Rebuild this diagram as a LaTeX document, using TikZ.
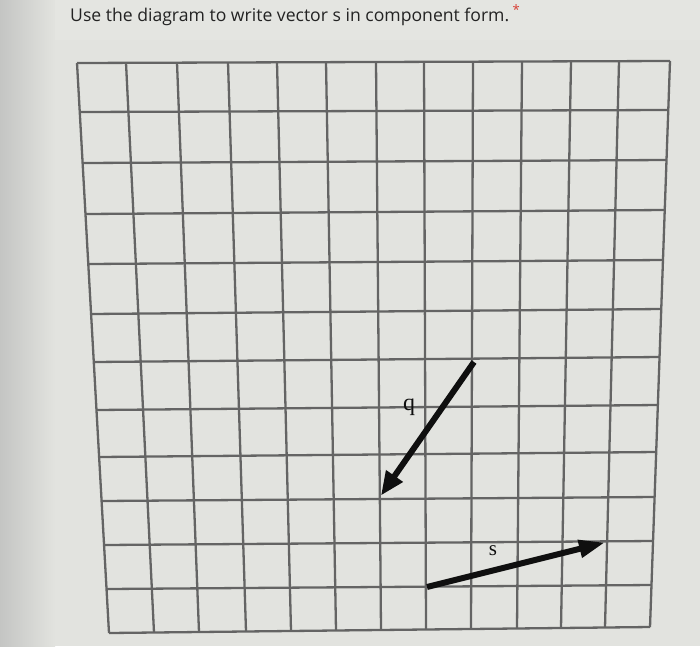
\documentclass[tikz,border=0pt]{standalone}
\usepackage{fontspec}
\setmainfont{Liberation Serif}
\newfontfamily\titlefont{Open Sans}
\usetikzlibrary{arrows.meta}
\definecolor{pagebg}{RGB}{226,227,223}
\definecolor{stripbg}{RGB}{196,197,195}
\definecolor{gridcol}{RGB}{100,100,100}
\definecolor{titlecol}{RGB}{35,35,35}
\definecolor{starred}{RGB}{215,60,50}
\definecolor{vec}{RGB}{15,15,15}
\tikzset{
  gridline/.style={draw=gridcol, line width=2.3pt},
  vecarrow/.style={draw=vec, line width=6pt, -{Triangle[length=24pt,width=19pt]}, shorten >=-2pt},
  veclabel/.style={font=\fontsize{24}{24}\selectfont, text=vec, inner sep=0pt},
}
\begin{document}
\begin{tikzpicture}[x=1pt,y=-1pt]
\useasboundingbox (0,0) rectangle (700,646);
\fill[pagebg] (0,0) rectangle (700,646);
\fill[left color=stripbg, right color=pagebg] (0,0) rectangle (55,646);
\fill[white, opacity=0.08] (55,0) rectangle (700,40);
% title
\node[anchor=base west, inner sep=0pt, text=titlecol, font=\titlefont\fontsize{17.6}{18}\selectfont] (title) at (70,21) {Use the diagram to write vector s in component form.};
\node[anchor=base west, inner sep=0pt, text=starred, font=\titlefont\fontsize{13}{13}\selectfont] (star) at ([xshift=3pt]title.base east) [yshift=7pt] {*};
% grid horizontal lines
\foreach \yl/\yr in {63/61,112/110,163/160,214/210,264/260,314/309,362/357,410/405,457/452,501/497,545/541,589/585,633/627}{
  \draw[gridline] ({77+(\yl-63)/570*32},\yl) -- ({670-(\yr-61)/566*20},\yr);
}
% grid vertical lines
\foreach \xt/\xb in {77/109,126/154,177/199,228/246,277/291,326/336,376/381,424/426,473/471,522/517,571/561,619/605,670/650}{
  \draw[gridline] (\xt,{63-(\xt-77)/593*2}) -- (\xb,{633-(\xb-109)/541*6});
}
% vectors
\coordinate (qtail) at (474,362);
\coordinate (qhead) at (382,494);
\coordinate (stail) at (427,587);
\coordinate (shead) at (603,543);
\draw[vecarrow] (qtail) -- (qhead);
\draw[vecarrow, -{Triangle[length=26pt,width=17pt]}] (stail) -- (shead);
\node[veclabel] (qlabel) at (409,407) {q};
\node[veclabel, font=\fontsize{21}{21}\selectfont] (slabel) at (493,551) {s};
\end{tikzpicture}
\end{document}
